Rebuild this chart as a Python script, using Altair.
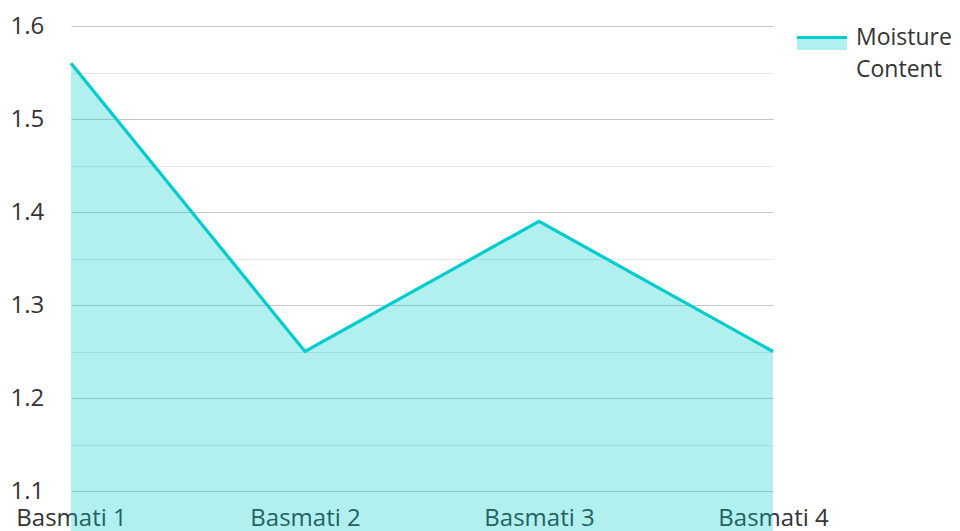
import altair as alt
import pandas as pd

categories = ["Basmati 1", "Basmati 2", "Basmati 3", "Basmati 4"]
moisture = [1.56, 1.25, 1.39, 1.25]
series_name = ["Moisture", "Content"]
y_ticks = [1.1, 1.15, 1.2, 1.25, 1.3, 1.35, 1.4, 1.45, 1.5, 1.55, 1.6]

df = pd.DataFrame({"variety": categories, "value": moisture})
one = pd.DataFrame({"k": [0]})

FONT = "Open Sans"
TEXT = "#333333"
LINE = "#00cccc"
FS = 24

x = alt.X("variety:N", sort=categories, title=None,
          scale=alt.Scale(type="point", padding=0),
          axis=alt.Axis(labelAngle=0, labelFontSize=FS, labelColor=TEXT, labelFont=FONT,
                        ticks=False, domain=False, grid=False, labelPadding=15,
                        labelOverlap=False))
y = alt.Y("value:Q", title=None,
          scale=alt.Scale(domain=[1.1, 1.6], zero=False, nice=False),
          axis=alt.Axis(values=y_ticks, format=".1f",
                        labelExpr="round(datum.value*100) % 10 == 0 ? datum.label : ''",
                        labelFontSize=FS, labelColor=TEXT, labelFont=FONT,
                        labelAlign="left", labelBaseline="middle", labelPadding=61,
                        ticks=False, domain=False, grid=True, labelOverlap=False,
                        gridColor={"condition": {"test": "round(datum.value*100) % 10 == 0", "value": "#c6c6c6"},
                                   "value": "#e6e6e6"},
                        gridWidth=1))

area = alt.Chart(df).mark_area(color="#00cccc", opacity=0.3).encode(x=x, y=y)
line = alt.Chart(df).mark_line(color=LINE, strokeWidth=3.2).encode(x=x, y=y)

leg_rect = alt.Chart(one).mark_rect(color="#00cccc", opacity=0.3).encode(
    x=alt.value(726), x2=alt.value(776), y=alt.value(10), y2=alt.value(24))
leg_rule = alt.Chart(one).mark_rule(color=LINE, strokeWidth=3).encode(
    x=alt.value(726), x2=alt.value(776), y=alt.value(11.5))
leg_t1 = alt.Chart(one).mark_text(text=series_name[0], align="left", baseline="middle",
                                  fontSize=23, font=FONT, color=TEXT).encode(
    x=alt.value(785), y=alt.value(12))
leg_t2 = alt.Chart(one).mark_text(text=series_name[1], align="left", baseline="middle",
                                  fontSize=23, font=FONT, color=TEXT).encode(
    x=alt.value(785), y=alt.value(44))

chart = alt.layer(area, line, leg_rect, leg_rule, leg_t1, leg_t2).properties(
    width=702, height=465,
    autosize=alt.AutoSizeParams(type="none"),
    padding={"left": 63, "top": 18, "right": 179, "bottom": 50},
).configure(font=FONT).configure_view(strokeWidth=0, stroke="transparent")

chart.save("out.html", embed_options={"renderer": "svg", "actions": False})
